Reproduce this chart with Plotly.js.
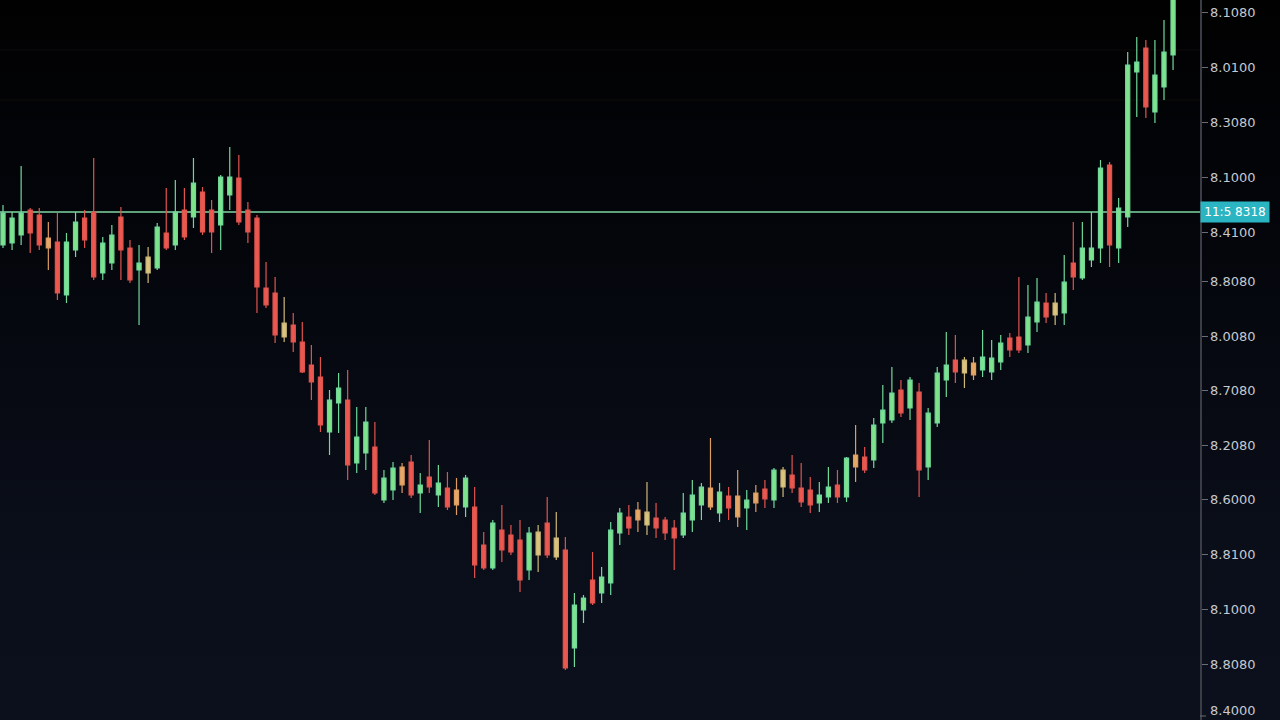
<!DOCTYPE html>
<html>
<head>
<meta charset="utf-8">
<script src="https://cdn.plot.ly/plotly-3.0.1.min.js"></script>
<style>
html,body{margin:0;padding:0;width:1280px;height:720px;overflow:hidden;
background:linear-gradient(to bottom,#010101 0%,#03050a 30%,#0a0e19 75%,#0c101d 100%);}
#chart{width:1280px;height:720px;}
</style>
</head>
<body>
<div id="chart"></div>
<script>
// candle index
const idx = [];
for (let i = 0; i < 130; i++) idx.push(i);

const openP = [8.0475,8.0477,8.0485,8.0510,8.0505,8.0482,8.0478,8.0425,8.0470,8.0502,
8.0508,8.0447,8.0457,8.0503,8.0472,8.0450,8.0447,8.0452,8.0487,8.0475,
8.0510,8.0503,8.0528,8.0510,8.0495,8.0525,8.0542,8.0510,8.0502,8.0432,
8.0427,8.0383,8.0395,8.0378,8.0355,8.0343,8.0288,8.0317,8.0320,8.0257,
8.0267,8.0273,8.0220,8.0230,8.0253,8.0258,8.0227,8.0243,8.0225,8.0232,
8.0230,8.0213,8.0213,8.0175,8.0152,8.0190,8.0185,8.0180,8.0150,8.0165,
8.0197,8.0163,8.0170,8.0072,8.0110,8.0140,8.0127,8.0137,8.0187,8.0203,
8.0210,8.0195,8.0202,8.0200,8.0192,8.0185,8.0200,8.0215,8.0232,8.0207,
8.0224,8.0224,8.0212,8.0227,8.0231,8.0220,8.0233,8.0245,8.0232,8.0230,
8.0217,8.0223,8.0235,8.0223,8.0265,8.0263,8.0260,8.0297,8.0300,8.0330,
8.0312,8.0328,8.0253,8.0297,8.0340,8.0360,8.0347,8.0357,8.0350,8.0348,
8.0358,8.0382,8.0383,8.0375,8.0398,8.0417,8.0405,8.0407,8.0457,8.0442,
8.0460,8.0472,8.0555,8.0472,8.0503,8.0648,8.0672,8.0608,8.0633,8.0665];

const highP = [8.0515,8.0508,8.0554,8.0512,8.0512,8.0498,8.0507,8.0487,8.0508,8.0510,
8.0562,8.0483,8.0495,8.0513,8.0480,8.0475,8.0473,8.0497,8.0532,8.0540,
8.0532,8.0562,8.0533,8.0520,8.0545,8.0573,8.0565,8.0518,8.0505,8.0458,
8.0443,8.0423,8.0407,8.0398,8.0375,8.0363,8.0330,8.0347,8.0350,8.0313,
8.0313,8.0298,8.0250,8.0258,8.0257,8.0265,8.0247,8.0280,8.0255,8.0248,
8.0242,8.0245,8.0233,8.0188,8.0200,8.0215,8.0195,8.0200,8.0193,8.0195,
8.0223,8.0208,8.0183,8.0127,8.0125,8.0168,8.0153,8.0198,8.0212,8.0215,
8.0218,8.0238,8.0217,8.0203,8.0200,8.0227,8.0240,8.0237,8.0282,8.0237,
8.0233,8.0250,8.0230,8.0235,8.0240,8.0252,8.0253,8.0265,8.0257,8.0243,
8.0238,8.0253,8.0250,8.0263,8.0295,8.0273,8.0302,8.0335,8.0353,8.0340,
8.0343,8.0337,8.0312,8.0353,8.0388,8.0385,8.0363,8.0363,8.0390,8.0380,
8.0385,8.0387,8.0443,8.0435,8.0442,8.0427,8.0427,8.0465,8.0498,8.0498,
8.0508,8.0560,8.0558,8.0522,8.0668,8.0683,8.0680,8.0680,8.0700,8.0735];

const lowP = [8.0472,8.0470,8.0475,8.0467,8.0470,8.0450,8.0420,8.0417,8.0463,8.0472,
8.0440,8.0440,8.0450,8.0440,8.0437,8.0395,8.0437,8.0450,8.0470,8.0470,
8.0480,8.0492,8.0485,8.0467,8.0470,8.0510,8.0495,8.0477,8.0407,8.0412,
8.0377,8.0378,8.0368,8.0347,8.0320,8.0288,8.0265,8.0287,8.0240,8.0247,
8.0250,8.0225,8.0217,8.0220,8.0227,8.0222,8.0207,8.0227,8.0213,8.0210,
8.0205,8.0203,8.0142,8.0150,8.0150,8.0158,8.0165,8.0128,8.0140,8.0148,
8.0162,8.0160,8.0050,8.0053,8.0097,8.0115,8.0117,8.0125,8.0175,8.0185,
8.0188,8.0185,8.0182,8.0180,8.0150,8.0182,8.0188,8.0200,8.0210,8.0198,
8.0200,8.0193,8.0190,8.0208,8.0212,8.0212,8.0223,8.0227,8.0213,8.0207,
8.0208,8.0217,8.0217,8.0218,8.0238,8.0247,8.0252,8.0277,8.0297,8.0303,
8.0300,8.0223,8.0240,8.0293,8.0323,8.0337,8.0332,8.0340,8.0343,8.0340,
8.0350,8.0363,8.0367,8.0367,8.0388,8.0397,8.0395,8.0395,8.0430,8.0440,
8.0453,8.0457,8.0453,8.0457,8.0493,8.0603,8.0602,8.0597,8.0620,8.0650];

const closeP = [8.0507,8.0502,8.0507,8.0487,8.0475,8.0472,8.0427,8.0478,8.0498,8.0480,
8.0443,8.0477,8.0485,8.0470,8.0440,8.0457,8.0463,8.0493,8.0472,8.0508,
8.0483,8.0537,8.0488,8.0488,8.0543,8.0543,8.0498,8.0488,8.0433,8.0415,
8.0385,8.0397,8.0378,8.0348,8.0338,8.0295,8.0320,8.0332,8.0255,8.0283,
8.0298,8.0227,8.0242,8.0252,8.0235,8.0225,8.0235,8.0233,8.0237,8.0213,
8.0215,8.0242,8.0155,8.0152,8.0197,8.0170,8.0168,8.0140,8.0187,8.0188,
8.0165,8.0182,8.0052,8.0115,8.0122,8.0117,8.0143,8.0190,8.0207,8.0192,
8.0200,8.0208,8.0192,8.0187,8.0182,8.0207,8.0225,8.0233,8.0213,8.0228,
8.0212,8.0203,8.0220,8.0217,8.0221,8.0250,8.0250,8.0232,8.0218,8.0215,
8.0225,8.0233,8.0223,8.0262,8.0253,8.0250,8.0295,8.0310,8.0327,8.0307,
8.0340,8.0250,8.0307,8.0347,8.0355,8.0348,8.0360,8.0345,8.0363,8.0362,
8.0377,8.0370,8.0370,8.0403,8.0418,8.0403,8.0417,8.0438,8.0443,8.0472,
8.0472,8.0552,8.0475,8.0512,8.0655,8.0658,8.0613,8.0645,8.0668,8.0725];

// candles drawn in a muted amber tone
const amberIdx = [5,16,31,44,50,59,61,70,71,78,81,83,86,94,106,107,116];

const tickVals = [8.0708,8.0653,8.0598,8.0543,8.0488,8.0439,8.0384,8.0330,8.0275,8.0221,8.0166,8.0111,8.0056,8.0004];
const tickText = ["8.1080","8.0100","8.3080","8.1000","8.4100","8.8080","8.0080","8.7080","8.2080","8.6000","8.8100","8.1000","8.8080","8.4000"];

const priceLine = 8.0508;
const priceTag = "11:5 8318";

function pick(arr, keep) { return arr.filter((_, i) => keep(i)); }
const isAmber = i => amberIdx.indexOf(i) >= 0;
const notAmber = i => !isAmber(i);

const main = {
  type: 'candlestick',
  x: pick(idx, notAmber), open: pick(openP, notAmber), high: pick(highP, notAmber),
  low: pick(lowP, notAmber), close: pick(closeP, notAmber),
  increasing: {line: {color: '#6fd89a', width: 1.2}, fillcolor: '#7ee38a'},
  decreasing: {line: {color: '#e0544e', width: 1.2}, fillcolor: '#ea584f'},
  whiskerwidth: 0, hoverinfo: 'skip', showlegend: false
};
const amber = {
  type: 'candlestick',
  x: pick(idx, isAmber), open: pick(openP, isAmber), high: pick(highP, isAmber),
  low: pick(lowP, isAmber), close: pick(closeP, isAmber),
  increasing: {line: {color: '#cdb878', width: 1.2}, fillcolor: '#dcc47e'},
  decreasing: {line: {color: '#dc9c62', width: 1.2}, fillcolor: '#e6a866'},
  whiskerwidth: 0, hoverinfo: 'skip', showlegend: false
};

// label of the lowest tick, lifted to sit fully inside the picture
const lastLabel = {
  xref: 'paper', x: 1, xanchor: 'left', xshift: 8, yref: 'paper', y: 0, yanchor: 'bottom',
  text: tickText[tickText.length - 1], showarrow: false,
  font: {family: 'DejaVu Sans', size: 13, color: '#c6c9cf'}
};

const layout = {
  width: 1280, height: 720,
  margin: {l: 0, r: 80, t: 0, b: 0},
  paper_bgcolor: 'rgba(0,0,0,0)', plot_bgcolor: 'rgba(0,0,0,0)',
  boxgap: 0.35, boxgroupgap: 0.3,
  xaxis: {range: [-0.33, 131.97], visible: false, rangeslider: {visible: false}, fixedrange: true},
  yaxis: {
    side: 'right', range: [8.0000, 8.0720], showgrid: false, zeroline: false,
    showline: true, linecolor: '#3a3d45', linewidth: 1.5,
    ticks: 'outside', ticklen: 6, tickcolor: '#6a6d75', tickwidth: 1,
    tickvals: tickVals.slice(0, -1), ticktext: tickText.slice(0, -1),
    tickfont: {family: 'DejaVu Sans', size: 13, color: '#c6c9cf'}
  },
  shapes: [
    {type: 'line', xref: 'paper', x0: 0, x1: 1, yref: 'y', y0: 8.0670, y1: 8.0670, layer: 'below',
     line: {color: 'rgba(60,45,36,0.25)', width: 1}},
    {type: 'line', xref: 'paper', x0: 0, x1: 1, yref: 'y', y0: 8.0620, y1: 8.0620, layer: 'below',
     line: {color: 'rgba(60,45,36,0.22)', width: 1}},
    {type: 'line', xref: 'paper', x0: 0, x1: 1, yref: 'y', y0: priceLine, y1: priceLine, layer: 'below',
     line: {color: '#7fd6a0', width: 1.5}},
    {type: 'line', xref: 'paper', x0: 1, x1: 1.005, yref: 'y', y0: tickVals[tickVals.length - 1], y1: tickVals[tickVals.length - 1],
     line: {color: '#6a6d75', width: 1}}
  ],
  annotations: [
    {xref: 'paper', x: 1, xanchor: 'left', yref: 'y', y: priceLine, yanchor: 'middle',
     text: priceTag, showarrow: false, bgcolor: '#2bb5c2', borderpad: 3,
     font: {family: 'DejaVu Sans', size: 12, color: '#ffffff'}, width: 62},
    lastLabel
  ]
};

Plotly.newPlot('chart', [main, amber], layout, {displayModeBar: false, staticPlot: true});
</script>
</body>
</html>
